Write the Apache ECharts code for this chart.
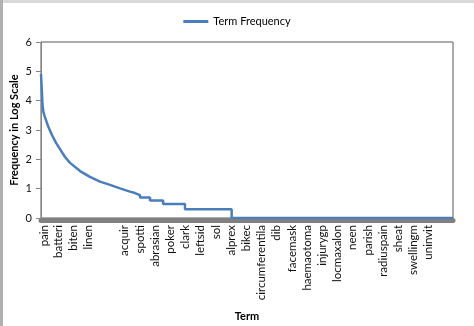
<!DOCTYPE html>
<html>
<head>
<meta charset="utf-8">
<script src="https://cdn.jsdelivr.net/npm/echarts@6/dist/echarts.min.js"></script>
<style>html,body{margin:0;padding:0;background:#fff;}#c{width:474px;height:326px;}</style>
</head>
<body>
<div id="c"></div>
<script>
// Term rank (x) and log10 frequency (y)
var termRank = [0, 7, 10, 16, 26, 46, 72, 99, 125, 158, 191, 257, 322, 388, 454, 520, 585, 618, 651, 651, 717, 717, 803, 803, 947, 947, 1254, 1254, 2710];
var logFreq  = [4.91, 4.19, 3.85, 3.61, 3.44, 3.14, 2.83, 2.56, 2.35, 2.08, 1.88, 1.60, 1.40, 1.24, 1.13, 1.01, 0.90, 0.85, 0.78, 0.70, 0.70, 0.60, 0.60, 0.48, 0.48, 0.30, 0.30, 0, 0];
// Tick labels and their term-rank positions
var tickNames = ['pain','batteri','biten','linen','acquir','spotti','abrasian','poker','clark','leftsid','sol','alprex','bikec','circumferentila','dib','facemask','haemaotoma','injurygp','locmaxalon','neen','parish','radiuspain','sheat','swellingm','uninvit'];
var tickPos = [20, 112, 210, 309, 550, 650, 750, 850, 950, 1050, 1150, 1250, 1350, 1450, 1550, 1650, 1750, 1850, 1950, 2050, 2150, 2250, 2350, 2450, 2550];
var yTicks = [0, 1, 2, 3, 4, 5, 6];

var nameByPos = {};
tickPos.forEach(function (p, i) { nameByPos[p] = tickNames[i]; });
var points = termRank.map(function (r, i) { return [r, logFreq[i]]; });

var font = 'Lato, "Open Sans", sans-serif';
var chart = echarts.init(document.getElementById('c'), null, {renderer: 'canvas'});
chart.setOption({
  animation: false,
  backgroundColor: '#fff',
  graphic: [
    {type: 'rect', shape: {x: 0, y: 0, width: 474, height: 3}, style: {fill: '#d9d9d9'}, silent: true},
    {type: 'rect', shape: {x: 0, y: 0, width: 3, height: 326}, style: {fill: '#b0b0b0'}, silent: true}
  ],
  legend: {
    top: 11, left: 'center',
    icon: 'rect', itemWidth: 25, itemHeight: 3, itemGap: 5,
    textStyle: {fontFamily: font, fontSize: 11, color: '#000'},
    data: ['Term Frequency']
  },
  grid: {left: 41, right: 21, top: 42, bottom: 108, outerBoundsMode: 'none', containLabel: false,
    show: true, borderColor: '#595959', borderWidth: 1, backgroundColor: 'transparent'},
  xAxis: {
    type: 'value', min: 0, max: 2710, offset: 2,
    name: 'Term', nameLocation: 'middle', nameGap: 91, nameMoveOverlap: false,
    nameTextStyle: {fontFamily: font, fontSize: 11, fontWeight: 'bold', color: '#000'},
    axisLine: {show: true, onZero: false, lineStyle: {color: '#808080', width: 5}},
    axisTick: {show: false},
    splitLine: {show: false},
    axisLabel: {
      customValues: tickPos, rotate: 90, margin: 5,
      fontFamily: font, fontSize: 11.5, color: '#111',
      formatter: function (v) { return nameByPos[v] || ''; }
    }
  },
  yAxis: {
    type: 'value', min: 0, max: 6, interval: 1,
    name: 'Frequency in Log Scale', nameLocation: 'middle', nameGap: 21, nameRotate: 90, nameMoveOverlap: false,
    nameTextStyle: {fontFamily: font, fontSize: 11, fontWeight: 'bold', color: '#000'},
    axisLine: {show: true, lineStyle: {color: '#868686', width: 1}},
    axisTick: {show: true, length: 5, lineStyle: {color: '#868686'}},
    splitLine: {show: false},
    axisLabel: {margin: 9, fontFamily: font, fontSize: 11, color: '#111',
      formatter: function (v) { return yTicks.indexOf(v) >= 0 ? String(v) : ''; }}
  },
  series: [{
    name: 'Term Frequency', type: 'line', data: points,
    showSymbol: false, z: 5,
    lineStyle: {color: '#4a7ebb', width: 2.5},
    itemStyle: {color: '#4a7ebb'}
  }]
});
</script>
</body>
</html>
